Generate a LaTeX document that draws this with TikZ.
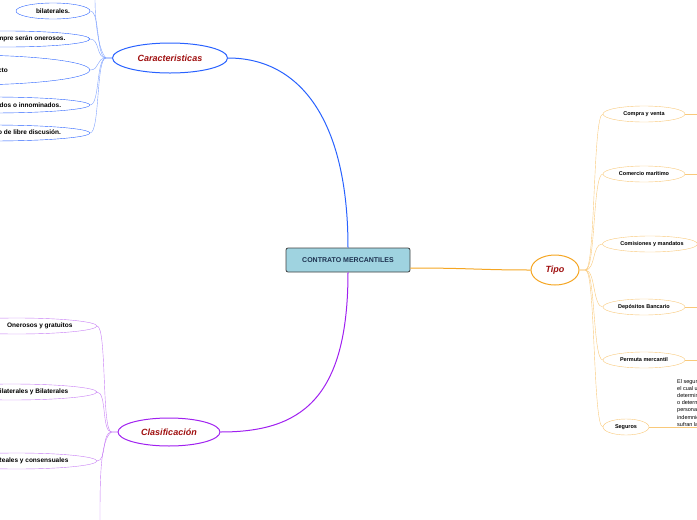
\documentclass[tikz,border=0pt]{standalone}
\usepackage{fontspec}
\setmainfont{Liberation Sans}
\usetikzlibrary{shapes.geometric,calc}
\definecolor{cb}{HTML}{2962FF}
\definecolor{cbl}{HTML}{7FA2FF}
\definecolor{cp}{HTML}{A020F0}
\definecolor{cpl}{HTML}{C77DF5}
\definecolor{co}{HTML}{F5A623}
\definecolor{col}{HTML}{F9C97A}
\definecolor{lab}{HTML}{A01010}
\tikzset{x=1pt,y=-1pt,
 central/.style={draw=black!75,fill={rgb,255:red,159;green,211;blue,224},rounded corners=2pt,minimum width=124pt,minimum height=24pt,font=\fontsize{7}{8}\selectfont\bfseries,text={rgb,255:red,30;green,50;blue,80},line width=0.8pt},
 main/.style={ellipse,draw,fill=white,line width=1pt,font=\fontsize{9}{10}\selectfont\bfseries\itshape,text=lab,inner sep=0pt},
 leaf/.style={ellipse,draw,fill=white,font=\fontsize{6.5}{7}\selectfont\bfseries,inner sep=0pt,minimum height=16pt},
 rleaf/.style={leaf,font=\fontsize{5.5}{6}\selectfont\bfseries,minimum width=82pt,minimum height=16pt}}
\newcommand{\lbranch}[3]{\draw[#3] (#1.west) -- ++(-6,0) coordinate (tmp) .. controls ($(tmp)+(-10,0)$) and ($(#2.east)+(10,0)$) .. (#2.east);}
\newcommand{\rbranch}[3]{\draw[#3] (#1.east) -- ++(6,0) coordinate (tmp) .. controls ($(tmp)+(10,0)$) and ($(#2.west)+(-10,0)$) .. (#2.west);}
\begin{document}
\begin{tikzpicture}
\useasboundingbox (0,0) rectangle (697,520);
\node[central] (c) at (348,260) {CONTRATO MERCANTILES};
\node[main,draw=cb,minimum width=115pt,minimum height=30pt] (car) at (170,58) {Caracteristicas};
\node[main,draw=cp,minimum width=102pt,minimum height=28pt] (cla) at (169,432) {Clasificación};
\node[main,draw=co,minimum width=48pt,minimum height=30pt] (tip) at (555,270) {Tipo};
\draw[cb,line width=1pt] (c.north) .. controls (348,120) and (300,58) .. (car.east);
\draw[cp,line width=1pt] (c.south) .. controls (348,400) and (300,432) .. (cla.west -| cla.east);
\draw[co,line width=1pt] (c.east|-348,268) .. controls (470,268) and (480,270) .. (tip.west);
% caracteristicas leaves
\node[leaf,draw=cb,minimum width=74pt] (k1) at (53,11) {bilaterales.};
\node[leaf,draw=cb,anchor=east,minimum width=150pt] (k2) at (90,39) {\hspace*{40pt}Siempre serán onerosos.};
\node[leaf,draw=cb,anchor=east,minimum width=250pt,minimum height=30pt] (k3) at (90,70) {\hspace*{60pt}Perfecto};
\node[leaf,draw=cb,anchor=east,minimum width=160pt] (k4) at (90,105) {\hspace*{40pt}Son nominados o innominados.};
\node[leaf,draw=cb,anchor=east,minimum width=170pt] (k5) at (90,133) {\hspace*{24pt}Pueden ser objeto de libre discusión.};
\foreach \k in {k1,k2,k3,k4,k5}{\lbranch{car}{\k}{cbl}}
\coordinate (ktop) at (95,-2);
\draw[cbl] (car.west) -- ++(-6,0) .. controls (98,50) and (95,20) .. (ktop);
% clasificacion leaves
\node[leaf,draw=cpl,anchor=east,minimum width=160pt] (l1) at (97,326) {\hspace*{46pt}Onerosos y gratuitos};
\node[leaf,draw=cpl,anchor=east,minimum width=170pt] (l2) at (97,392) {\hspace*{36pt}Unilaterales y Bilaterales};
\node[leaf,draw=cpl,anchor=east,minimum width=160pt] (l3) at (97,461) {\hspace*{32pt}Reales y consensuales};
\foreach \k in {l1,l2,l3}{\lbranch{cla}{\k}{cpl}}
\coordinate (lbot) at (100,522);
\draw[cpl] (cla.west) -- ++(-6,0) .. controls (100,440) and (100,480) .. (lbot);
% tipo leaves
\node[rleaf,draw=col] (t1) at (644,114) {Compra y venta};
\node[rleaf,draw=col] (t2) at (644,174) {Comercio marítimo};
\node[rleaf,draw=col] (t3) at (650,244) {\hspace*{4pt}Comisiones y mandatos};
\node[rleaf,draw=col] (t4) at (644,307) {Depósitos Bancario};
\node[rleaf,draw=col] (t5) at (644,360) {Permuta mercantil};
\node[rleaf,draw=col,minimum width=46pt] (t6) at (626,427) {Seguros};
\foreach \k in {t1,t2,t3,t4,t5,t6}{\rbranch{tip}{\k}{col}\draw[col] (\k.east) -- ++(60,0);}
\node[anchor=north west,align=left,font=\fontsize{5.5}{7.2}\selectfont,inner sep=0pt] (st) at (677,379) {El seguro es un contrato por\\el cual una persona se obliga\\determinada cantidad de dinero\\o determinados bienes a una\\persona, a fin de que ésta la\\indemnice de los daños que\\sufran las cosas aseguradas};
\end{tikzpicture}
\end{document}
